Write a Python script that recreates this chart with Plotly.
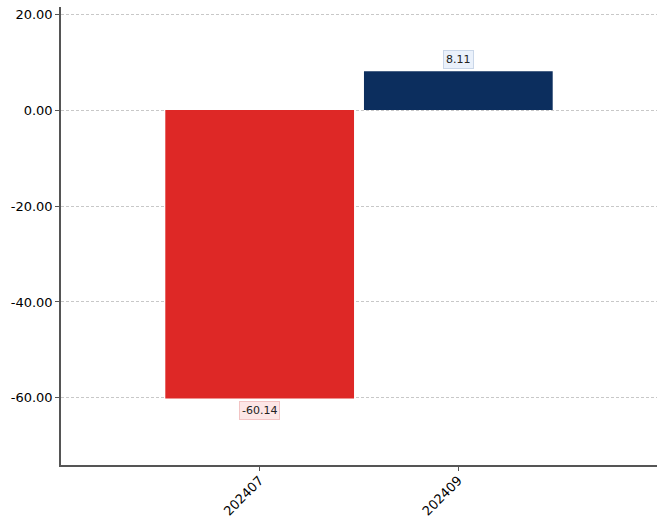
import plotly.graph_objects as go

categories = ["202407", "202409"]
values = [-60.14, 8.11]
y_ticks = [-60, -40, -20, 0, 20]
y_tick_labels = ["-60.00", "-40.00", "-20.00", "0.00", "20.00"]
bar_colors = ["#de2826", "#0c2e5e"]
label_bg = ["#fde6e6", "#eaf1fb"]
label_border = ["#f2c4c4", "#c9d6e8"]

fig = go.Figure()
fig.add_trace(go.Bar(
    x=list(range(len(categories))), y=values,
    marker=dict(color=bar_colors, line=dict(width=0)),
    width=0.95, hoverinfo="skip",
))

for i, v in enumerate(values):
    fig.add_annotation(
        x=i, y=v, text=f"{v:.2f}", showarrow=False,
        yshift=12 if v >= 0 else -12,
        font=dict(family="DejaVu Sans", size=11, color="#222"),
        bgcolor=label_bg[i], bordercolor=label_border[i], borderwidth=1, borderpad=2,
    )

fig.update_layout(
    width=666, height=518,
    margin=dict(l=61, r=9, t=7, b=53),
    paper_bgcolor="white", plot_bgcolor="white",
    showlegend=False,
    font=dict(family="DejaVu Sans", size=13, color="black"),
)
fig.update_xaxes(
    range=[-1, 2], tickmode="array", tickvals=list(range(len(categories))),
    ticktext=categories, tickangle=-45, ticks="outside", ticklen=4,
    tickcolor="#555", showline=True, linecolor="#555", linewidth=1.5,
    showgrid=False, zeroline=False, automargin=False,
    tickfont=dict(size=13), ticklabelstandoff=-3,
)
fig.update_yaxes(
    range=[-74, 21.5], tickmode="array", tickvals=y_ticks, ticktext=y_tick_labels,
    ticks="outside", ticklen=4, tickcolor="#555",
    showline=True, linecolor="#555", linewidth=1.5,
    showgrid=True, gridcolor="#c8c8c8", griddash="3px,2px", gridwidth=0.8,
    zeroline=False, automargin=False, tickfont=dict(size=13),
)
fig.write_html("out.html", post_script="document.body.style.margin='0';",
               config={"displayModeBar": False})
